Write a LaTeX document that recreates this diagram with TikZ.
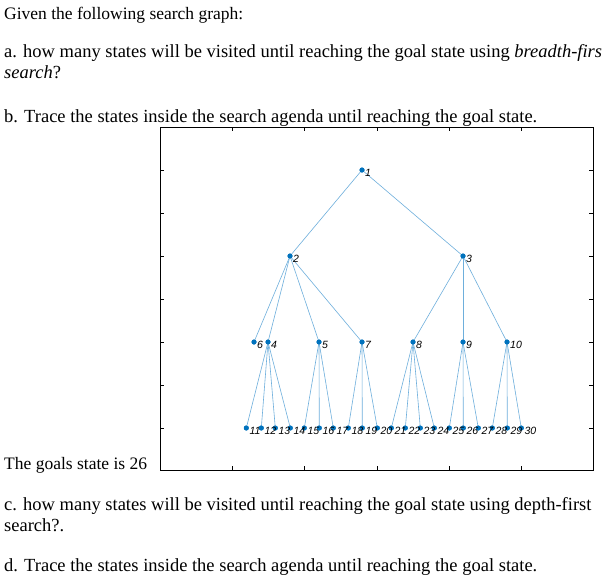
\documentclass[tikz,border=0pt]{standalone}
\usepackage{fontspec}
\setmainfont{Liberation Serif}
\newfontfamily\lab{Liberation Sans}
\begin{document}
\begin{tikzpicture}[x=1pt,y=-1pt,
  txt/.style={anchor=west,inner sep=0pt,font=\fontsize{18.5}{20}\selectfont},
  dot/.style={circle,fill={rgb,255:red,0;green,114;blue,189},inner sep=0pt,minimum size=5pt},
  edge/.style={draw={rgb,255:red,110;green,175;blue,220},line width=0.6pt},
  lbl/.style={font=\lab\itshape\fontsize{10.5}{11}\selectfont,anchor=west,inner sep=0pt,xshift=3pt,yshift=-3pt}]
\useasboundingbox (0,0) rectangle (604,581);
\fill[white] (0,0) rectangle (604,581);
\node[txt,font=\fontsize{17.5}{20}\selectfont] (t1) at (4,15) {Given the following search graph:};
\node[txt] (t2) at (4,53) {a. how many states will be visited until reaching the goal state using \textit{breadth-firs}};
\node[txt] (t3) at (4,72) {\textit{search}?};
\node[txt] (t4) at (4,118) {b. Trace the states inside the search agenda until reaching the goal state.};
\node[txt,font=\fontsize{17.5}{20}\selectfont] (t5) at (4,465) {The goals state is 26};
\node[txt] (t6) at (4,506) {c. how many states will be visited until reaching the goal state using depth-first};
\node[txt] (t7) at (4,525) {search?.};
\node[txt] (t8) at (4,567) {d. Trace the states inside the search agenda until reaching the goal state.};
% axes
\draw[line width=0.6pt] (160,127) rectangle (593,470);
\foreach \x in {232,304,377,449,521} {\draw[line width=0.4pt] (\x,127) -- ++(0,4); \draw[line width=0.4pt] (\x,470) -- ++(0,-4);}
\foreach \y in {170,213,256,299,342,385,428} {\draw[line width=0.4pt] (160,\y) -- ++(4,0); \draw[line width=0.4pt] (593,\y) -- ++(-4,0);}
% nodes
\node[dot] (n1) at (362,170) {};
\node[dot] (n2) at (290,256) {};
\node[dot] (n3) at (463,256) {};
\node[dot] (n6) at (254,342) {};
\node[dot] (n4) at (268,342) {};
\node[dot] (n5) at (319,342) {};
\node[dot] (n7) at (362,342) {};
\node[dot] (n8) at (413,342) {};
\node[dot] (n9) at (463,342) {};
\node[dot] (n10) at (507,342) {};
\foreach \i/\x in {11/246.3,12/261.3,13/275.3,14/290.3,15/304.3,16/319.3,17/333.3,18/348.3,19/362.3,20/377.3,21/391.3,22/405.3,23/420.3,24/434.3,25/449.3,26/463.3,27/478.3,28/492.3,29/507.3,30/521.3}
  \node[dot] (n\i) at (\x,428) {};
% edges
\foreach \a/\b in {1/2,1/3,2/6,2/4,2/5,2/7,3/8,3/9,3/10,4/11,4/12,4/13,4/14,5/15,5/16,5/17,7/18,7/19,7/20,8/21,8/22,8/23,8/24,9/25,9/26,9/27,10/28,10/29,10/30}
  \draw[edge] (n\a.center) -- (n\b.center);
\foreach \n in {1,...,30} \node[dot] at (n\n.center) {};
\foreach \n in {1,...,30} \node[lbl] at (n\n.center) {\n};
\end{tikzpicture}
\end{document}
